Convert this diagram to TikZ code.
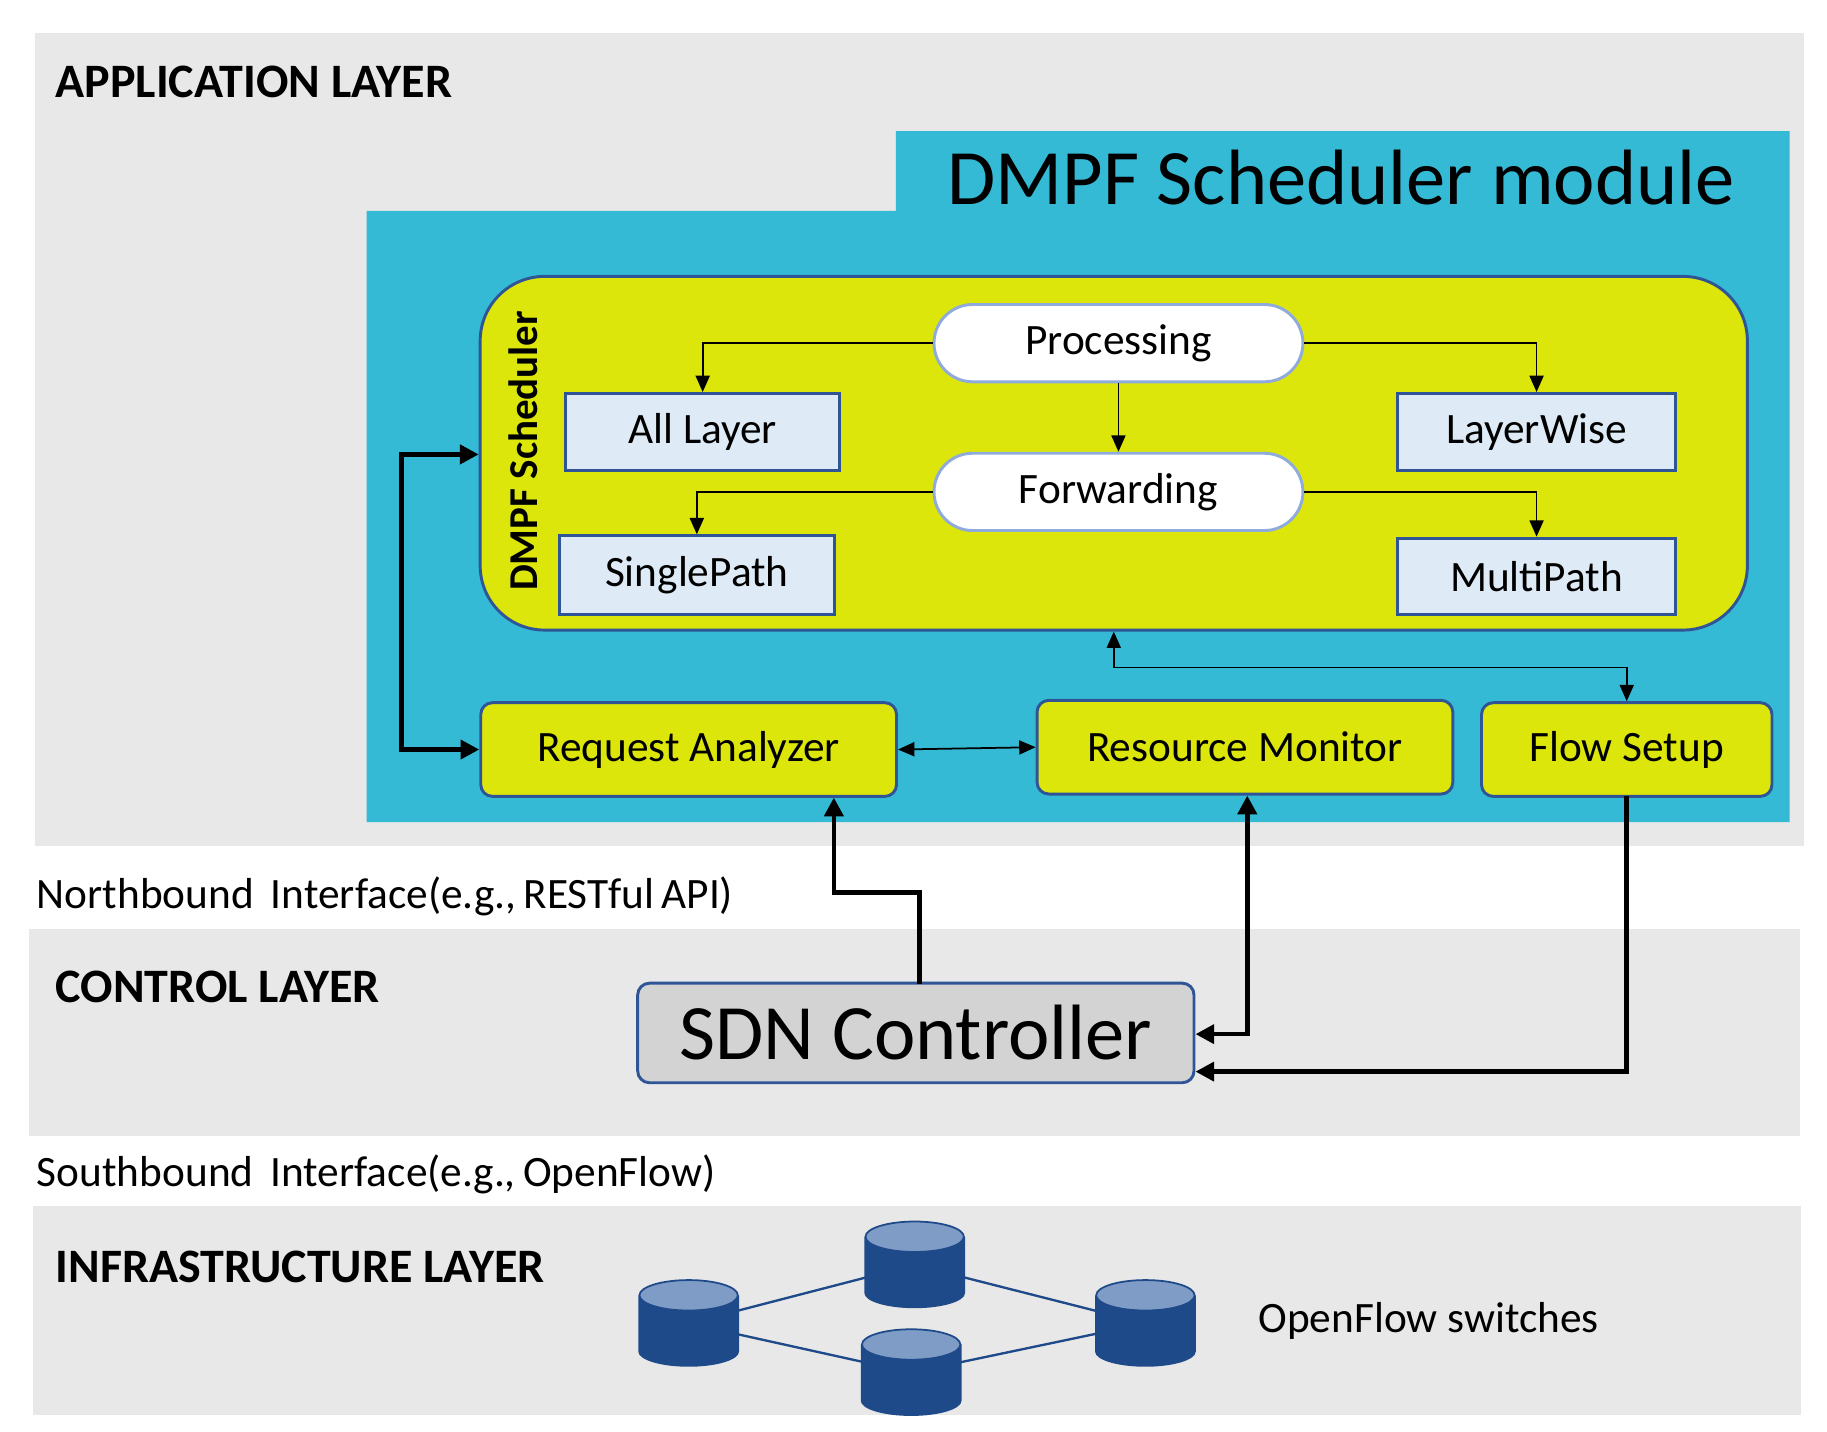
\documentclass[tikz,border=0pt]{standalone}
\usepackage{fontspec}
\setmainfont{Carlito}
\usetikzlibrary{shapes.geometric,arrows.meta}
\definecolor{lgray}{HTML}{E8E8E8}
\definecolor{cyanm}{HTML}{35BAD6}
\definecolor{ylw}{HTML}{DCE60A}
\definecolor{dblue}{HTML}{2F5597}
\definecolor{lblue}{HTML}{DEEBF7}
\definecolor{ovb}{HTML}{8FAADC}
\definecolor{cylb}{HTML}{1F4A8A}
\definecolor{cylt}{HTML}{7F9CC6}
\newcommand\mycyl[2]{%
  \node[minimum width=86pt,minimum height=75pt,inner sep=0] (#1) at (#2) {};
  \begin{scope}[shift={(#2)}]
  \fill[cylb] (-43,-24) -- (-43,24) arc[start angle=180,end angle=0,x radius=43,y radius=13] -- (43,-24) -- cycle;
  \filldraw[fill=cylt,draw=cylb,line width=1.5pt] (0,-24) ellipse[x radius=42,y radius=13];
  \end{scope}}
\begin{document}
\begin{tikzpicture}[x=1pt,y=-1pt,
  txt/.style={font=\fontsize{37}{42}\selectfont},
  box/.style={draw=dblue,line width=2.5pt,fill=lblue,inner sep=0,txt},
  oval/.style={draw=ovb,line width=2.5pt,fill=white,rounded corners=33pt,inner sep=0,txt,minimum width=315pt,minimum height=66pt},
  ybox/.style={draw=dblue,line width=2.5pt,fill=ylw,rounded corners=10pt,inner sep=0,txt,minimum height=80pt},
  ar/.style={line width=1.5pt,-{Triangle[length=14pt,width=12pt]}},
  dar/.style={line width=1.5pt,{Triangle[length=14pt,width=12pt]}-{Triangle[length=14pt,width=12pt]}},
  tar/.style={line width=4pt,-{Triangle[length=16pt,width=16pt]}},
  tdar/.style={line width=4pt,{Triangle[length=16pt,width=16pt]}-{Triangle[length=16pt,width=16pt]}},
  lay/.style={font=\fontsize{41}{46}\selectfont\bfseries,anchor=west}]
\useasboundingbox (0,0) rectangle (1560,1222);
\fill[white] (0,0) rectangle (1560,1222);
% layers
\fill[lgray] (30,28) rectangle (1540,722);
\fill[lgray] (25,793) rectangle (1537,970);
\fill[lgray] (28,1030) rectangle (1538,1208);
\node[lay] (al) at (44,70) {APPLICATION LAYER};
\node[lay] (cl) at (44,843) {CONTROL LAYER};
\node[lay] (il) at (44,1082) {INFRASTRUCTURE LAYER};
% module
\fill[cyanm] (313,180) -- (765,180) -- (765,112) -- (1528,112) -- (1528,702) -- (313,702) -- cycle;
\node[font=\fontsize{67}{72}\selectfont] (title) at (1145,152) {DMPF Scheduler module};
\node[draw=dblue,line width=2.5pt,fill=ylw,rounded corners=55pt,minimum width=1082pt,minimum height=302pt,inner sep=0] (sched) at (951,387) {};
\node[rotate=90,font=\fontsize{35}{40}\selectfont\bfseries] (st) at (447,385) {DMPF Scheduler};
\node[oval] (proc) at (955,293) {Processing};
\node[oval] (fwd) at (955,420) {Forwarding};
\node[box,minimum width=234pt,minimum height=66pt] (all) at (600,369) {All Layer};
\node[box,minimum width=237pt,minimum height=66pt] (lw) at (1312,369) {LayerWise};
\node[box,minimum width=235pt,minimum height=67pt] (sp) at (595,491) {SinglePath};
\node[box,minimum width=237pt,minimum height=65pt] (mp) at (1312,492) {MultiPath};
\draw[ar] (proc.west) -| (all.north);
\draw[ar] (proc.east) -| (lw.north);
\draw[ar] (proc.south) -- (fwd.north);
\draw[ar] (fwd.west) -| (sp.north);
\draw[ar] (fwd.east) -| (mp.north);
\node[ybox,minimum width=355pt] (ra) at (588,640) {Request Analyzer};
\node[ybox,minimum width=355pt] (rm) at (1063,638) {Resource Monitor};
\node[ybox,minimum width=248pt] (fs) at (1389,640) {Flow Setup};
\draw[dar] (sched.south) |- (1389,570) -- (fs.north);
\draw[dar] (ra.east) -- (rm.west);
\coordinate (lk) at (343,388);
\draw[tdar] (sched.west |- lk) -- (lk) |- (ra.west);
% control
\node[anchor=west,txt] (nb) at (28,765) {Northbound\, Interface(e.g.,\,RESTful\,API)};
\node[draw=dblue,line width=2.5pt,fill=lgray!80!gray,rounded corners=10pt,minimum width=475pt,minimum height=85pt,font=\fontsize{67}{72}\selectfont] (sdn) at (782,882) {SDN Controller};
\draw[tar] (785,840) -- (785,762) -- (712,762) -- (712,681);
\draw[tdar] (rm.south -| 1065,0) -- (1065,883) -- (sdn.east |- 0,883);
\draw[tar] (1389,680) -- (1389,915) -- (sdn.east |- 0,915);
\node[anchor=west,txt] (sb) at (28,1003) {Southbound\, Interface(e.g.,\,OpenFlow)};
% switches
\draw[cylb,line width=2pt] (588,1130) -- (781,1080) -- (978,1130) -- (778,1172) -- cycle;
\mycyl{c1}{588,1130}
\mycyl{c2}{781,1080}
\mycyl{c3}{778,1172}
\mycyl{c4}{978,1130}
\node[anchor=west,txt] (ofs) at (1071,1128) {OpenFlow switches};
\end{tikzpicture}
\end{document}
